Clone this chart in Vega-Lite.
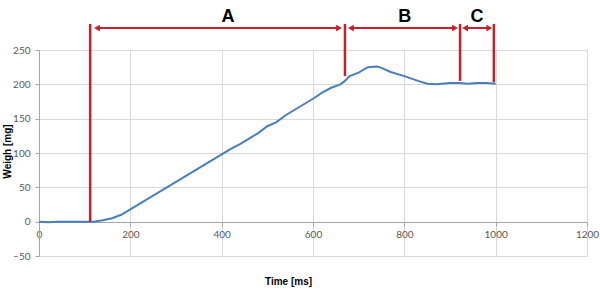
{
  "$schema": "https://vega.github.io/schema/vega-lite/v6.json",
  "autosize": "none",
  "width": 548,
  "height": 206,
  "padding": {"left": 39, "top": 50, "right": 13, "bottom": 38},
  "background": "white",
  "config": {
    "view": {"stroke": null},
    "axis": {
      "labelFont": "Lato",
      "labelFontSize": 10,
      "labelColor": "#595959",
      "labelOverlap": false,
      "labelFlush": false,
      "labelBound": false,
      "format": "d",
      "titleFont": "Liberation Sans",
      "titleFontSize": 10,
      "titleFontWeight": "bold",
      "titleColor": "#000000",
      "gridColor": "#d9d9d9",
      "gridWidth": 1,
      "domainColor": "#a6a6a6",
      "tickColor": "#a6a6a6",
      "tickSize": 4
    }
  },
  "datasets": {
    "curve": [
      {"t": 0, "w": 0}, {"t": 10, "w": -0.5}, {"t": 20, "w": -1}, {"t": 40, "w": 0},
      {"t": 60, "w": 0}, {"t": 80, "w": 0}, {"t": 100, "w": 0}, {"t": 120, "w": 0},
      {"t": 140, "w": 2}, {"t": 160, "w": 5}, {"t": 180, "w": 10}, {"t": 200, "w": 18},
      {"t": 220, "w": 26}, {"t": 240, "w": 34}, {"t": 260, "w": 42}, {"t": 280, "w": 50},
      {"t": 300, "w": 58}, {"t": 320, "w": 66}, {"t": 340, "w": 74}, {"t": 360, "w": 82},
      {"t": 380, "w": 90}, {"t": 400, "w": 98}, {"t": 420, "w": 106}, {"t": 440, "w": 113},
      {"t": 460, "w": 121}, {"t": 480, "w": 129}, {"t": 500, "w": 139}, {"t": 520, "w": 145},
      {"t": 540, "w": 155}, {"t": 560, "w": 163}, {"t": 580, "w": 171}, {"t": 600, "w": 179},
      {"t": 620, "w": 188}, {"t": 640, "w": 195}, {"t": 660, "w": 200}, {"t": 670, "w": 205},
      {"t": 680, "w": 212}, {"t": 700, "w": 217}, {"t": 720, "w": 225}, {"t": 740, "w": 226},
      {"t": 750, "w": 224}, {"t": 770, "w": 218}, {"t": 800, "w": 212}, {"t": 830, "w": 205},
      {"t": 850, "w": 201}, {"t": 870, "w": 200}, {"t": 900, "w": 202}, {"t": 920, "w": 202},
      {"t": 940, "w": 201}, {"t": 960, "w": 202}, {"t": 980, "w": 202}, {"t": 1000, "w": 201}
    ],
    "vlines": [
      {"t": 112, "top": 288, "bottom": 0},
      {"t": 670, "top": 288, "bottom": 212},
      {"t": 922, "top": 288, "bottom": 205},
      {"t": 996, "top": 288, "bottom": 203}
    ],
    "arrows": [
      {"t1": 128, "t2": 656, "y": 282},
      {"t1": 684, "t2": 910, "y": 282},
      {"t1": 934, "t2": 985, "y": 282}
    ],
    "headsL": [
      {"t": 127, "y": 282}, {"t": 683, "y": 282}, {"t": 933, "y": 282}
    ],
    "headsR": [
      {"t": 657, "y": 282}, {"t": 911, "y": 282}, {"t": 986, "y": 282}
    ],
    "labels": [
      {"t": 414, "y": 298, "label": "A"},
      {"t": 801, "y": 298, "label": "B"},
      {"t": 959, "y": 298, "label": "C"}
    ]
  },
  "layer": [
    {
      "data": {"name": "curve"},
      "mark": {"type": "line", "color": "#4a7ebb", "strokeWidth": 2},
      "encoding": {
        "x": {
          "field": "t", "type": "quantitative",
          "scale": {"domain": [0, 1200], "nice": false},
          "axis": {
            "values": [0, 200, 400, 600, 800, 1000, 1200],
            "tickCount": 12,
            "title": "Time [ms]",
            "offset": -34,
            "titleX": 249, "titleY": 59,
            "titleBaseline": "middle", "titleAlign": "center",
            "labelPadding": 3
          }
        },
        "y": {
          "field": "w", "type": "quantitative",
          "scale": {"domain": [-50, 250], "nice": false},
          "axis": {
            "values": [-50, 0, 50, 100, 150, 200, 250],
            "tickCount": 12,
            "title": "Weigh [mg]",
            "titleX": -32, "titleY": 101,
            "titleAngle": -90,
            "titleBaseline": "middle", "titleAlign": "center",
            "labelPadding": 5
          }
        }
      }
    },
    {
      "data": {"name": "vlines"},
      "mark": {"type": "rule", "color": "#c8202a", "strokeWidth": 2.5, "clip": false},
      "encoding": {
        "x": {"field": "t", "type": "quantitative"},
        "y": {"field": "top", "type": "quantitative"},
        "y2": {"field": "bottom"}
      }
    },
    {
      "data": {"name": "arrows"},
      "mark": {"type": "rule", "color": "#c8202a", "strokeWidth": 2, "clip": false},
      "encoding": {
        "x": {"field": "t1", "type": "quantitative"},
        "x2": {"field": "t2"},
        "y": {"field": "y", "type": "quantitative"}
      }
    },
    {
      "data": {"name": "headsL"},
      "mark": {"type": "point", "shape": "triangle-left", "filled": true, "color": "#c8202a", "size": 45, "opacity": 1},
      "encoding": {
        "x": {"field": "t", "type": "quantitative"},
        "y": {"field": "y", "type": "quantitative"}
      }
    },
    {
      "data": {"name": "headsR"},
      "mark": {"type": "point", "shape": "triangle-right", "filled": true, "color": "#c8202a", "size": 45, "opacity": 1},
      "encoding": {
        "x": {"field": "t", "type": "quantitative"},
        "y": {"field": "y", "type": "quantitative"}
      }
    },
    {
      "data": {"name": "labels"},
      "mark": {"type": "text", "font": "Liberation Sans", "fontSize": 18, "fontWeight": "bold", "color": "#000000", "baseline": "middle", "align": "center"},
      "encoding": {
        "x": {"field": "t", "type": "quantitative"},
        "y": {"field": "y", "type": "quantitative"},
        "text": {"field": "label"}
      }
    }
  ]
}
